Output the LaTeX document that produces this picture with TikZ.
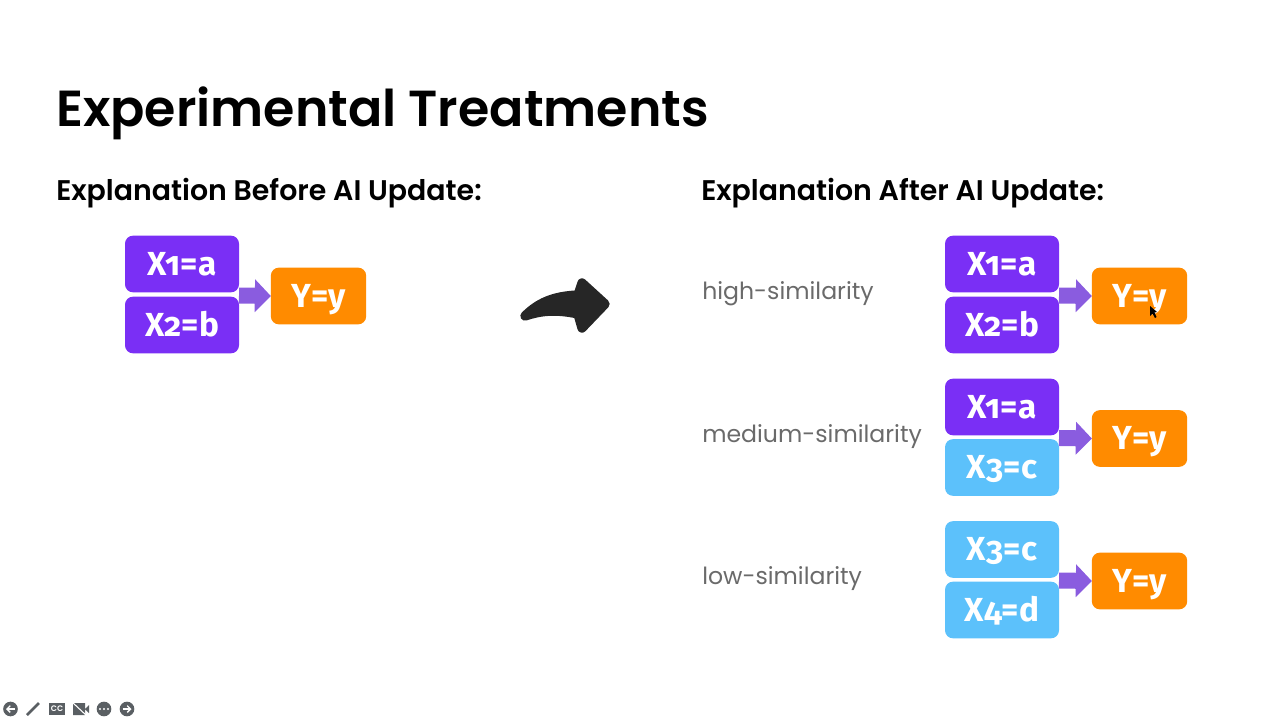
\documentclass[tikz,border=0pt]{standalone}
\usepackage{fontspec}
\usepackage{xcolor}
\usetikzlibrary{arrows.meta}
\setmainfont{Poppins}[BoldFont={Poppins SemiBold}]
\newfontfamily\boxfont[Numbers=OldStyle]{Fira Sans}
\definecolor{boxpurple}{HTML}{7A2FF5}
\definecolor{boxcyan}{HTML}{5CC1FB}
\definecolor{boxorange}{HTML}{FF8B00}
\definecolor{arrowpurple}{HTML}{8A5CDF}
\definecolor{labelgrey}{HTML}{6A6A6A}
\definecolor{icongrey}{HTML}{5A5F63}
\tikzset{
  xbox/.style={rounded corners=6pt,inner sep=0pt,outer sep=0pt,minimum width=85.5pt,minimum height=42.5pt,
    text=white,font=\boxfont\fontsize{25}{25}\selectfont\bfseries,text height=17pt,text depth=0pt},
  purplebox/.style={xbox,fill=boxpurple},
  cyanbox/.style={xbox,fill=boxcyan},
  ybox/.style={xbox,fill=boxorange,minimum width=71.5pt},
  flow/.style={arrowpurple,line width=12pt,-{Triangle[length=12pt,width=24pt]}},
  heading/.style={anchor=base west,inner sep=0pt,font=\fontsize{21.3}{22}\selectfont\bfseries},
  level/.style={anchor=base west,inner sep=0pt,text=labelgrey,font=\fontsize{17.7}{18}\selectfont},
  icon/.style={circle,fill=icongrey,inner sep=0pt,minimum size=11pt}
}
\begin{document}
\begin{tikzpicture}[x=0.75pt,y=-0.75pt]
  \useasboundingbox (0,0) rectangle (1280,720);

  \node (title) at (56,127) [anchor=base west,inner sep=0pt,font=\fontsize{38}{38}\selectfont\bfseries] {Experimental Treatments};
  \node (before) at (56,201) [heading] {Explanation Before AI Update:};
  \node (after) at (701,201) [heading] {Explanation After AI Update:};

  % left group
  \node (a0) at (182,264) [purplebox] {X1=a};
  \node (b0) at (182,325) [purplebox] {X2=b};
  \node (y0) at (318.5,296) [ybox] {Y=y};
  \coordinate (m0) at (239,295.5);
  \draw[flow] (m0) -- (y0.west);

  % big arrow
  \path[fill=black!85,draw=black!85,line width=7pt,line join=round]
    (525,316) .. controls (538,303) and (553,296) .. (578,295)
    -- (582,283) -- (605,304) -- (582,328) -- (578,314)
    .. controls (555,309) and (540,311) .. (525,316) -- cycle;

  % high
  \node (high) at (702,299) [level] {high-similarity};
  \node (a1) at (1002,264) [purplebox] {X1=a};
  \node (b1) at (1002,325) [purplebox] {X2=b};
  \node (y1) at (1139.5,296) [ybox] {Y=y};
  \coordinate (m1) at (1059,295.5);
  \draw[flow] (m1) -- (y1.west);

  % medium
  \node (medium) at (702,442) [level] {medium-similarity};
  \node (a2) at (1002,407) [purplebox] {X1=a};
  \node (b2) at (1002,467.5) [cyanbox] {X3=c};
  \node (y2) at (1139.5,438.5) [ybox] {Y=y};
  \coordinate (m2) at (1059,438);
  \draw[flow] (m2) -- (y2.west);

  % low
  \node (low) at (702,584) [level] {low-similarity};
  \node (a3) at (1002,549.5) [cyanbox] {X3=c};
  \node (b3) at (1002,610) [cyanbox] {X4=d};
  \node (y3) at (1139.5,581) [ybox] {Y=y};
  \coordinate (m3) at (1059,580.5);
  \draw[flow] (m3) -- (y3.west);

  % cursor
  \fill[black] (1150,306) -- (1150,316) -- (1152.5,313.5) -- (1155,318) -- (1156.5,317) -- (1154.5,312.5) -- (1157,312) -- cycle;

  % toolbar
  \node (prev) at (10.5,709) [icon] {};
  \draw[white,line width=1pt,-{Straight Barb[length=2.5pt,width=5pt]}] (15,709) -- (6,709);
  \draw[icongrey,line width=2pt] (27,715) -- (39,703);
  \node (cc) at (57,709) [fill=icongrey,text=white,inner sep=0pt,minimum width=11.5pt,minimum height=9pt,font=\fontsize{6}{6}\selectfont\bfseries] {CC};
  \fill[icongrey] (73,703) rectangle (85,715) (85,709) -- (89,705) -- (89,713) -- cycle;
  \draw[white,line width=0.8pt] (72,702) -- (87,716);
  \node (more) at (104,709) [icon] {};
  \fill[white] (100,709) circle (1.2) (104,709) circle (1.2) (108,709) circle (1.2);
  \node (next) at (127,709) [icon] {};
  \draw[white,line width=1pt,-{Straight Barb[length=2.5pt,width=5pt]}] (122.5,709) -- (131.5,709);
\end{tikzpicture}
\end{document}
